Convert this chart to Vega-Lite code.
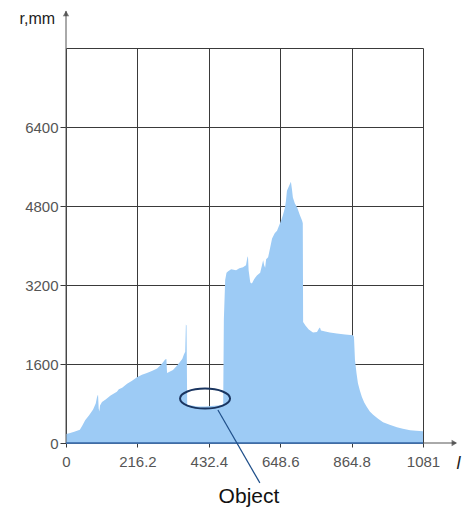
{
  "$schema": "https://vega.github.io/schema/vega-lite/v6.json",
  "width": 357,
  "height": 395,
  "autosize": "none",
  "padding": {"left": 66, "top": 48, "right": 51, "bottom": 72},
  "background": "white",
  "config": {
    "view": {"stroke": null},
    "font": "Liberation Sans"
  },
  "datasets": {
    "profile": [
      {"x": 0, "r": 180}, {"x": 10, "r": 200}, {"x": 25, "r": 230}, {"x": 42, "r": 270},
      {"x": 50, "r": 360}, {"x": 58, "r": 460}, {"x": 70, "r": 560}, {"x": 82, "r": 680},
      {"x": 90, "r": 800}, {"x": 94, "r": 930}, {"x": 97, "r": 980}, {"x": 99, "r": 700},
      {"x": 101, "r": 640}, {"x": 103, "r": 760}, {"x": 109, "r": 830}, {"x": 120, "r": 880},
      {"x": 135, "r": 960}, {"x": 154, "r": 1040}, {"x": 160, "r": 1090}, {"x": 170, "r": 1120},
      {"x": 185, "r": 1200}, {"x": 200, "r": 1260}, {"x": 215, "r": 1330}, {"x": 230, "r": 1380},
      {"x": 245, "r": 1420}, {"x": 260, "r": 1460}, {"x": 276, "r": 1510}, {"x": 290, "r": 1600},
      {"x": 300, "r": 1690}, {"x": 304, "r": 1700}, {"x": 306, "r": 1420}, {"x": 315, "r": 1450},
      {"x": 324, "r": 1480}, {"x": 335, "r": 1560}, {"x": 345, "r": 1640}, {"x": 352, "r": 1700},
      {"x": 357, "r": 1790}, {"x": 361, "r": 1850}, {"x": 363, "r": 2400}, {"x": 365, "r": 2380},
      {"x": 367, "r": 760}, {"x": 380, "r": 760}, {"x": 400, "r": 740}, {"x": 421, "r": 740},
      {"x": 440, "r": 750}, {"x": 460, "r": 760}, {"x": 476, "r": 780}, {"x": 478, "r": 2500},
      {"x": 482, "r": 3300}, {"x": 486, "r": 3450}, {"x": 491, "r": 3480}, {"x": 500, "r": 3520},
      {"x": 515, "r": 3500}, {"x": 525, "r": 3540}, {"x": 536, "r": 3560}, {"x": 545, "r": 3600},
      {"x": 549, "r": 3750}, {"x": 551, "r": 3780}, {"x": 553, "r": 3500}, {"x": 558, "r": 3250},
      {"x": 563, "r": 3230}, {"x": 570, "r": 3320}, {"x": 578, "r": 3390}, {"x": 588, "r": 3450},
      {"x": 597, "r": 3700}, {"x": 600, "r": 3600}, {"x": 603, "r": 3550}, {"x": 606, "r": 3720},
      {"x": 612, "r": 3760}, {"x": 618, "r": 3950}, {"x": 624, "r": 4140}, {"x": 632, "r": 4250},
      {"x": 639, "r": 4300}, {"x": 645, "r": 4400}, {"x": 651, "r": 4500}, {"x": 657, "r": 4620},
      {"x": 663, "r": 4770}, {"x": 666, "r": 4900}, {"x": 669, "r": 5110}, {"x": 675, "r": 5200},
      {"x": 681, "r": 5290}, {"x": 684, "r": 5150}, {"x": 687, "r": 4970}, {"x": 693, "r": 4850},
      {"x": 700, "r": 4770}, {"x": 708, "r": 4620}, {"x": 715, "r": 4500}, {"x": 717, "r": 4450},
      {"x": 718, "r": 2450}, {"x": 725, "r": 2380}, {"x": 735, "r": 2300}, {"x": 748, "r": 2240},
      {"x": 760, "r": 2250}, {"x": 766, "r": 2320}, {"x": 769, "r": 2340}, {"x": 772, "r": 2280},
      {"x": 785, "r": 2260}, {"x": 799, "r": 2240}, {"x": 820, "r": 2220}, {"x": 845, "r": 2200},
      {"x": 869, "r": 2180}, {"x": 872, "r": 2150}, {"x": 875, "r": 1680}, {"x": 880, "r": 1400},
      {"x": 884, "r": 1210}, {"x": 890, "r": 1060}, {"x": 896, "r": 930}, {"x": 903, "r": 820},
      {"x": 911, "r": 730}, {"x": 920, "r": 640}, {"x": 930, "r": 570}, {"x": 945, "r": 490},
      {"x": 960, "r": 420}, {"x": 980, "r": 370}, {"x": 1002, "r": 320}, {"x": 1020, "r": 290},
      {"x": 1042, "r": 260}, {"x": 1060, "r": 250}, {"x": 1081, "r": 240}
    ],
    "yline": [{"x": 0, "r": 0, "r2": 8750}],
    "xline": [{"x": 0, "x2": 1180, "r": 0}],
    "xblue": [{"x": 0, "x2": 1081, "r": 0}],
    "xarrow": [{"x": 1176, "r": 0}],
    "yarrow": [{"x": 0, "r": 8700}],
    "ellipse": [{"x": 421, "r": 900}],
    "leader": [{"x": 460, "r": 667, "x2": 587, "r2": -808}],
    "label": [{"x": 554, "r": -1091, "text": "Object"}]
  },
  "encoding": {
    "x": {
      "field": "x", "type": "quantitative",
      "scale": {"domain": [0, 1081], "nice": false, "zero": false},
      "axis": {
        "values": [0, 216.2, 432.4, 648.6, 864.8, 1081],
        "format": ".1~f",
        "domain": false,
        "labelFlush": false,
        "grid": true, "gridColor": "#3a3a3a", "gridWidth": 1, "gridOpacity": 1,
        "tickColor": "#3a3a3a", "tickSize": 4,
        "labelColor": "#555555", "labelFontSize": 15, "labelPadding": 7,
        "labelFont": "Liberation Sans",
        "title": "l", "titleFontStyle": "italic", "titleFontWeight": "normal",
        "titleFontSize": 18, "titleColor": "#222222",
        "titleX": 392, "titleY": 20, "titleAlign": "center", "titleBaseline": "middle"
      }
    },
    "y": {
      "field": "r", "type": "quantitative",
      "scale": {"domain": [0, 8000], "nice": false, "zero": true},
      "axis": {
        "values": [0, 1600, 3200, 4800, 6400, 8000],
        "format": "d",
        "labelExpr": "datum.value == 8000 ? '' : datum.label",
        "domain": false,
        "labelFlush": false,
        "grid": true, "gridColor": "#3a3a3a", "gridWidth": 1, "gridOpacity": 1,
        "tickColor": "#3a3a3a", "tickSize": 6,
        "tickOpacity": {"condition": {"test": "datum.value == 8000", "value": 0}, "value": 1},
        "labelColor": "#555555", "labelFontSize": 15, "labelPadding": 2,
        "labelFont": "Liberation Sans",
        "title": "r,mm", "titleAngle": 0, "titleFontWeight": "normal",
        "titleFontSize": 16, "titleColor": "#222222",
        "titleX": -47, "titleY": -30, "titleAlign": "left", "titleBaseline": "middle"
      }
    }
  },
  "layer": [
    {
      "data": {"name": "profile"},
      "mark": {"type": "area", "color": "#9dcbf5", "interpolate": "linear"}
    },
    {
      "data": {"name": "yline"},
      "mark": {"type": "rule", "color": "#555555", "strokeWidth": 1},
      "encoding": {"y2": {"field": "r2"}}
    },
    {
      "data": {"name": "xline"},
      "mark": {"type": "rule", "color": "#555555", "strokeWidth": 1},
      "encoding": {"x2": {"field": "x2"}}
    },
    {
      "data": {"name": "xblue"},
      "mark": {"type": "rule", "color": "#3f78c0", "strokeWidth": 1.5},
      "encoding": {"x2": {"field": "x2"}}
    },
    {
      "data": {"name": "xarrow"},
      "mark": {"type": "point", "shape": "triangle-right", "filled": true, "color": "#333333", "size": 40}
    },
    {
      "data": {"name": "yarrow"},
      "mark": {"type": "point", "shape": "triangle-up", "filled": true, "color": "#333333", "size": 40}
    },
    {
      "data": {"name": "leader"},
      "mark": {"type": "rule", "color": "#1f4f8a", "strokeWidth": 1.2},
      "encoding": {"x2": {"field": "x2"}, "y2": {"field": "r2"}}
    },
    {
      "data": {"name": "ellipse"},
      "mark": {"type": "point", "shape": "M -1 0 A 1 0.4 0 1 0 1 0 A 1 0.4 0 1 0 -1 0 Z", "filled": false, "color": "#1a3560", "strokeWidth": 2, "size": 2500, "opacity": 1}
    },
    {
      "data": {"name": "label"},
      "mark": {"type": "text", "fontSize": 21, "color": "#111111", "font": "Liberation Sans", "align": "center", "baseline": "middle"},
      "encoding": {"text": {"field": "text"}}
    }
  ]
}
